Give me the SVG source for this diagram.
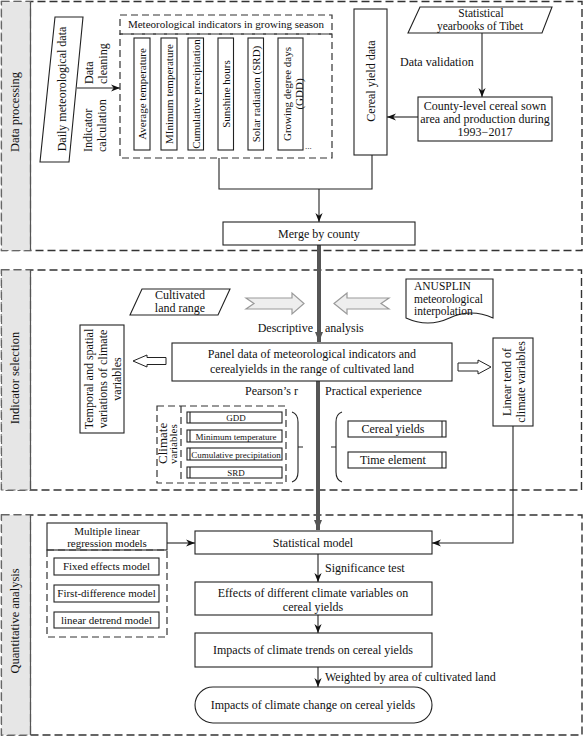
<svg xmlns="http://www.w3.org/2000/svg" width="584" height="737" viewBox="0 0 584 737">
<defs>
<style>
text{font-family:"Liberation Serif","Times New Roman",serif;font-size:12px;fill:#111}
.m{text-anchor:middle}
.s11{font-size:11px}
.s115{font-size:11.5px}
.s9{font-size:9px}
.box{fill:#fff;stroke:#222;stroke-width:1.1}
.dash{fill:none;stroke:#333;stroke-width:1.2;stroke-dasharray:7 4}
.frame{fill:none;stroke:#333;stroke-width:1.4;stroke-dasharray:8 4}
.strip{fill:#e6e6e6;stroke:#666;stroke-width:1.2;stroke-dasharray:8 4}
.ln{fill:none;stroke:#222;stroke-width:1.1}
.arr{fill:none;stroke:#222;stroke-width:1.1;marker-end:url(#ah)}
.thick{fill:none;stroke:#555;stroke-width:4;marker-end:url(#ahg)}
.hollow{fill:#fff;stroke:#222;stroke-width:1}
.gray{fill:#eeeeee;stroke:#9a9a9a;stroke-width:1.2}
</style>
<marker id="ah" viewBox="0 0 10 8" refX="10" refY="4" markerWidth="9" markerHeight="8" markerUnits="userSpaceOnUse" orient="auto">
<path d="M0,0 L10,4 L0,8 L3,4 z" fill="#111"/>
</marker>
<marker id="ahg" viewBox="0 0 10 8" refX="10" refY="4" markerWidth="10" markerHeight="8" markerUnits="userSpaceOnUse" orient="auto">
<path d="M0,0 L10,4 L0,8 z" fill="#555"/>
</marker>
</defs>

<!-- Section frames -->
<g id="section-data-processing">
<rect class="frame" x="1.5" y="1.5" width="580.5" height="249"/>
<rect class="strip" x="1.5" y="1.5" width="29" height="249"/>
<line x1="30.5" y1="1.5" x2="30.5" y2="250.5" stroke="#555" stroke-width="1.2"/>
<text class="m" transform="translate(15,112) rotate(-90)" y="4" style="font-size:12.5px">Data  processing</text>
</g>
<g id="section-indicator-selection">
<rect class="frame" x="1.5" y="270" width="580" height="220"/>
<rect class="strip" x="1.5" y="270" width="29" height="220"/>
<line x1="30.5" y1="270" x2="30.5" y2="490" stroke="#555" stroke-width="1.2"/>
<text class="m" transform="translate(15,378) rotate(-90)" y="4" style="font-size:12.5px">Indicator selection</text>
</g>
<g id="section-quantitative-analysis">
<rect class="frame" x="1.5" y="515" width="580.5" height="220"/>
<rect class="strip" x="1.5" y="515" width="29" height="220"/>
<line x1="30.5" y1="515" x2="30.5" y2="735" stroke="#555" stroke-width="1.2"/>
<text class="m" transform="translate(15,621) rotate(-90)" y="4" style="font-size:12.5px">Quantitative analysis</text>
</g>

<!-- Connectors -->
<g id="connectors">
<path class="arr" d="M77,88 H120"/>
<path class="ln" d="M219,158 V189 H372 V155"/>
<path class="arr" d="M319,189 V222"/>
<path class="arr" d="M482,33 V97"/>
<path class="arr" d="M418,117 H387"/>
<path class="thick" d="M319,245 V342"/>
<path class="thick" d="M318,381 V530"/>
<path class="ln" d="M513,426 V543 H440"/>
<path class="arr" d="M440,543 H432"/>
<path class="arr" d="M167,543 H195"/>
<path class="arr" d="M318,554 V582"/>
<path class="arr" d="M318,615 V633"/>
<path class="arr" d="M318,667 V687"/>
<polygon class="hollow" points="166,357.5 147,357.5 147,355 133,361 147,367 147,364.5 166,364.5"/>
<polygon class="hollow" points="458,363 478,363 478,360 491,367 478,374 478,371 458,371"/>
<polygon class="gray" points="246,298 292,298 292,293 304,303.5 292,314 292,309 246,309 254,303.5"/>
<polygon class="gray" points="334,303.5 347,293 347,298 389,298 381,303.5 389,309 347,309 347,314"/>
</g>

<!-- Labels on connectors -->
<g id="connector-labels">
<text transform="translate(89,84) rotate(-90)" y="4">Data</text>
<text transform="translate(103,84) rotate(-90)" y="4">cleaning</text>
<text transform="translate(88,152) rotate(-90)" y="4">Indicator</text>
<text transform="translate(102,152) rotate(-90)" y="4">calculation</text>
<text x="400" y="66">Data validation</text>
<text x="313" y="332" text-anchor="end">Descriptive</text>
<text x="325" y="332">analysis</text>
<text x="298" y="395" text-anchor="end">Pearson’s r</text>
<text x="325" y="395">Practical experience</text>
<text x="325" y="572">Significance test</text>
<text x="325" y="681">Weighted by area of cultivated land</text>
</g>

<!-- Section 1 nodes -->
<g id="daily-meteorological-data">
<polygon class="box" points="55,17 83,17 69,162 40,162"/>
<text class="m" transform="translate(62,89) rotate(-90)" y="4">Daily meteorological data</text>
</g>
<g id="meteorological-indicators">
<rect class="dash" x="120" y="15" width="212" height="19"/>
<text class="m s11" x="226" y="28">Meteorological indicators in growing season</text>
<rect class="dash" x="120" y="34" width="212" height="124"/>
<rect class="box" x="134" y="38" width="16" height="112"/>
<text class="m s11" transform="translate(142,94) rotate(-90)" y="4">Average  temperature</text>
<rect class="box" x="161" y="38" width="16" height="112"/>
<text class="m s11" transform="translate(169,94) rotate(-90)" y="4">MInimum  temperature</text>
<rect class="box" x="188" y="38" width="15.5" height="112"/>
<text class="m s11" transform="translate(195.75,94) rotate(-90)" y="4">Cumulative  precipitation</text>
<rect class="box" x="218" y="38" width="15.5" height="112"/>
<text class="m s11" transform="translate(225.75,94) rotate(-90)" y="4">Sunshine  hours</text>
<rect class="box" x="248" y="38" width="15.5" height="112"/>
<text class="m s11" transform="translate(255.75,94) rotate(-90)" y="4">Solar radiation (SRD)</text>
<rect class="box" x="278" y="38" width="25" height="112"/>
<text class="m s11" transform="translate(290.5,94) rotate(-90)"><tspan x="0" y="0">Growing degree days</tspan><tspan x="0" y="12">(GDD)</tspan></text>
<text class="s9" x="305" y="149">...</text>
</g>
<g id="cereal-yield-data">
<rect class="box" x="354" y="9" width="33" height="146"/>
<text class="m" transform="translate(371,81) rotate(-90)" y="4">Cereal yield data</text>
</g>
<g id="statistical-yearbooks">
<polygon class="box" points="420,7 552,7 542,33 408,33"/>
<text class="m s115" x="481" y="17">Statistical</text>
<text class="m s115" x="480" y="29.5">yearbooks of Tibet</text>
</g>
<g id="county-level-data">
<rect class="box" x="418" y="97" width="134" height="44"/>
<text class="m" x="485" y="110">County-level cereal sown</text>
<text class="m" x="485" y="123">area and production during</text>
<text class="m" x="485" y="136">1993−2017</text>
</g>
<g id="merge-by-county">
<rect class="box" x="223" y="222" width="192" height="23"/>
<text class="m" x="319" y="238">Merge by county</text>
</g>

<!-- Section 2 nodes -->
<g id="cultivated-land-range">
<polygon class="box" points="142,289 230,289 218,315 130,315"/>
<text class="m" x="180" y="299">Cultivated</text>
<text class="m" x="180" y="312">land range</text>
</g>
<g id="anusplin">
<path class="box" d="M406,279 H493 V318 Q471,308 449.5,318 T406,318 Z"/>
<text class="s115" x="414" y="290">ANUSPLIN</text>
<text class="s115" x="414" y="302.5">meteorological</text>
<text class="s115" x="414" y="315">interpolation</text>
</g>
<g id="panel-data">
<rect class="box" x="172" y="343" width="280" height="38"/>
<text class="m" x="312" y="358">Panel data of meteorological indicators and</text>
<text class="m" x="312" y="373">cerealyields in the range of cultivated land</text>
</g>
<g id="temporal-spatial">
<rect class="box" x="80" y="325" width="44" height="108"/>
<text class="m" transform="translate(102,379) rotate(-90)"><tspan x="0" y="-9">Temporal and spatial</tspan><tspan x="0" y="5">variations of climate</tspan><tspan x="0" y="19">variables</tspan></text>
</g>
<g id="linear-trend">
<rect class="box" x="493" y="338" width="40" height="88"/>
<text class="m" transform="translate(513,382) rotate(-90)"><tspan x="0" y="-2">Linear tend of</tspan><tspan x="0" y="12">climate variables</tspan></text>
</g>
<g id="climate-variables">
<rect class="dash" x="157" y="406" width="129" height="77"/>
<line class="dash" x1="181" y1="406" x2="181" y2="483"/>
<text transform="translate(167,464) rotate(-90)" style="font-size:13px">Climate</text>
<text class="s11" transform="translate(177,464) rotate(-90)">variables</text>
<rect class="box" x="187" y="412" width="95" height="11"/>
<line class="ln" x1="190" y1="412" x2="190" y2="423"/>
<text class="m s9" x="236" y="421">GDD</text>
<rect class="box" x="187" y="430" width="95" height="12"/>
<line class="ln" x1="190" y1="430" x2="190" y2="442"/>
<text class="m s9" x="236" y="439.5">Minimum temperature</text>
<rect class="box" x="187" y="448" width="95" height="12"/>
<line class="ln" x1="190" y1="448" x2="190" y2="460"/>
<text class="m s9" x="236" y="457.5">Cumulative precipitation</text>
<rect class="box" x="187" y="467" width="95" height="11"/>
<line class="ln" x1="190" y1="467" x2="190" y2="478"/>
<text class="m s9" x="236" y="476">SRD</text>
<path class="ln" d="M292,412 Q298,414 298,422 V472 Q298,480 292,482 M298,447 H303"/>
</g>
<g id="practical-elements">
<path class="ln" d="M342,412 Q336,414 336,422 V472 Q336,480 342,482 M336,447 H331"/>
<rect class="box" x="348" y="421" width="98" height="16"/>
<line class="ln" x1="442" y1="421" x2="442" y2="437"/>
<text class="m" x="393" y="433">Cereal yields</text>
<rect class="box" x="348" y="452" width="98" height="16"/>
<line class="ln" x1="442" y1="452" x2="442" y2="468"/>
<text class="m" x="393" y="464">Time element</text>
</g>

<!-- Section 3 nodes -->
<g id="regression-models">
<rect class="box" x="47" y="523" width="120" height="27"/>
<text class="m s11" x="107" y="535">Multiple linear</text>
<text class="m s11" x="107" y="547">regression models</text>
<rect class="dash" x="47" y="550" width="120" height="87"/>
<rect class="box" x="54" y="558" width="105" height="17"/>
<text class="m s11" x="106.5" y="570">Fixed effects model</text>
<rect class="box" x="54" y="585" width="105" height="17"/>
<text class="m s11" x="106.5" y="597">First-difference model</text>
<rect class="box" x="54" y="612" width="105" height="16"/>
<text class="m s11" x="106.5" y="624">linear detrend model</text>
</g>
<g id="statistical-model">
<rect class="box" x="195" y="531" width="237" height="23"/>
<text class="m" x="313" y="547">Statistical model</text>
</g>
<g id="effects-of-variables">
<rect class="box" x="195" y="582" width="237" height="33"/>
<text class="m" x="313" y="597">Effects of different climate variables on</text>
<text class="m" x="313" y="611">cereal yields</text>
</g>
<g id="impacts-of-trends">
<rect class="box" x="195" y="633" width="237" height="34"/>
<text class="m" x="313" y="654">Impacts of climate trends on cereal yields</text>
</g>
<g id="impacts-of-change">
<rect class="box" x="195" y="687" width="237" height="36" rx="18" ry="18"/>
<text class="m" x="313" y="709">Impacts of climate change on cereal yields</text>
</g>
</svg>
